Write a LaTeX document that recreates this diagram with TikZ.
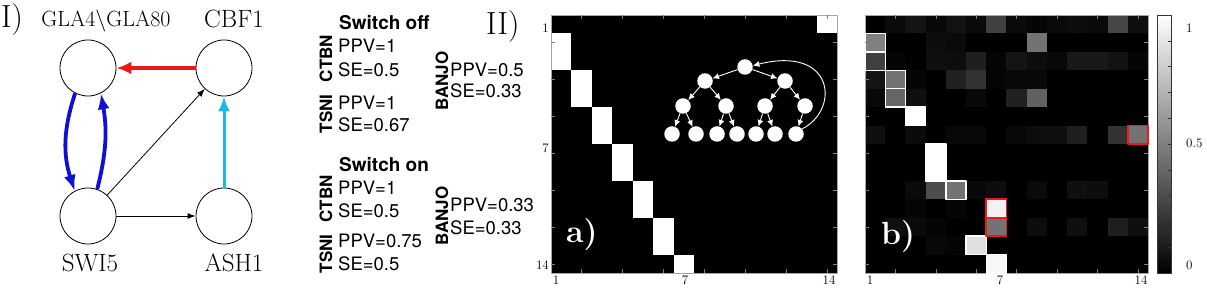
\documentclass[tikz,border=0pt]{standalone}
\usepackage{fontspec}
\newfontfamily\helv{TeX Gyre Heros}
\usetikzlibrary{arrows.meta}
\definecolor{swred}{RGB}{235,25,25}
\definecolor{swblue}{RGB}{15,15,215}
\definecolor{swcyan}{RGB}{25,185,230}
\begin{document}
\begin{tikzpicture}[x=1pt,y=1pt,line join=round,>=Stealth]
	\tikzset{gene/.style={circle,draw,line width=0.8pt,minimum size=56pt,inner sep=0pt},
		glab/.style={font=\fontsize{25}{26}\selectfont,anchor=base,inner sep=0pt},
		hv/.style={font=\helv\fontsize{18.5}{20}\selectfont,anchor=base west,inner sep=0pt},
		hvb/.style={font=\helv\bfseries\fontsize{17}{18}\selectfont,rotate=90,anchor=base,inner sep=0pt},
		numlab/.style={font=\fontsize{13}{14}\selectfont,inner sep=0pt},
		panlab/.style={white,font=\bfseries\fontsize{32}{34}\selectfont,anchor=base west,inner sep=0pt},
		tnode/.style={circle,fill=white,minimum size=15.5pt,inner sep=0pt},
		tedge/.style={white,line width=0.9pt,-{Latex[length=6.5pt,width=6pt]}},
		thin arrow/.style={line width=0.8pt,-{Latex[length=8pt,width=6pt]}},
		frame/.style={gray!70,line width=0.6pt}}
	\def\ax{551} \def\bx{865} \def\wa{20.43} \def\wb{20.21}
	\def\rh{18.43} \def\yt{273} \def\yb{15}
	\useasboundingbox (0,0) rectangle (1207,288);
	%\draw[gray!30] (0,0) grid[step=50] (1207,288);
	% I) network
	\node[font=\fontsize{32}{34}\selectfont,anchor=base west,inner sep=0pt] (lI) at (1,260) {I)};
	\node[gene] (gla) at (88,220) {};
	\node[gene] (cbf) at (224,220) {};
	\node[gene] (swi) at (88,72) {};
	\node[gene] (ash) at (224,72) {};
	\node[glab,font=\fontsize{22}{23}\selectfont] (lgla) at (106,261) {GLA4\textbackslash GLA80};
	\node[glab] (lcbf) at (234,260) {CBF1};
	\node[glab] (lswi) at (90,16) {SWI5};
	\node[glab] (lash) at (234,16) {ASH1};
	\draw[swred,line width=3.2pt,-{Latex[length=15pt,width=13pt]}] (cbf) -- (gla);
	\draw[swblue,line width=3.8pt,-{Latex[length=16pt,width=12pt]}] (gla.243) to[bend right=18] (swi.118);
	\draw[swblue,line width=3.8pt,-{Latex[length=16pt,width=12pt]}] (swi.71) to[bend right=12] (gla.297);
	\draw[swcyan,line width=3pt,-{Latex[length=15pt,width=12pt]}] (ash) -- (cbf);
	\draw[thin arrow] (swi) -- (cbf);
	\draw[thin arrow] (swi) -- (ash);
	% scores
	\node[hv,font=\helv\bfseries\fontsize{19}{20}\selectfont] (soff) at (339,258) {Switch off};
	\node[hv,font=\helv\bfseries\fontsize{19}{20}\selectfont] (son) at (339,116) {Switch on};
	\foreach \n/\x/\y/\t in {a/338/235/PPV=1, b/338/211/SE=0.5, c/338/178/PPV=1, d/338/156/SE=0.67,
		e/450/211/PPV=0.5, f/450/190/SE=0.33, g/338/93/PPV=1, h/338/70/SE=0.5,
		i/338/40/PPV=0.75, j/338/17/SE=0.5, k/450/76/PPV=0.33, l/450/53/SE=0.33}
		\node[hv] (s\n) at (\x,\y) {\t};
	\foreach \n/\x/\y/\t in {a/332/229.5/CTBN, b/332/174/TSNI, c/448/207/BANJO,
		d/332/89/CTBN, e/332/34/TSNI, f/448/72/BANJO}
		\node[hvb] (m\n) at (\x,\y) {\t};
	% II a) true network
	\node[font=\fontsize{32}{34}\selectfont,anchor=base west,inner sep=0pt] (lII) at (486,253) {II)};
	\fill[black] (\ax,\yb) rectangle (837,\yt);
	\foreach \r/\c/\n in {1/14/1, 2/1/2, 4/2/2, 6/3/2, 8/4/2, 10/5/2, 12/6/2, 14/7/1}
		\fill[white] ({\ax+(\c-1)*\wa},{\yt-(\r-1)*\rh}) rectangle ({\ax+\c*\wa},{\yt-(\r-1+\n)*\rh});
	\draw[frame] (\ax,\yb) rectangle (837,\yt);
	\foreach \n/\x/\y in {1/745/221, 2/705/207, 3/785/207, 4/683/182, 5/726/182, 6/765/182, 7/805/182,
		8/672/154, 9/696/154, 10/717/154, 11/737/154, 12/756/154, 13/775/154, 14/796/154}
		\node[tnode] (t\n) at (\x,\y) {};
	\foreach \p/\c in {1/2,1/3,2/4,2/5,3/6,3/7,4/8,4/9,5/10,5/11,6/12,6/13,7/14}
		\draw[tedge] (t\p) -- (t\c);
	\draw[tedge] (t14.40) .. controls (840,178) and (835,243) .. (t1.10);
	\node[panlab] (la) at (566,45) {a)};
	% II b) inferred network
	\fill[black] (\bx,\yb) rectangle (1148,\yt);
	\foreach \r/\c/\v in {1/2/4,1/3/8,1/4/3,1/5/7,1/6/4,1/7/25,1/8/4,1/9/2,1/10/4,1/11/5,1/12/4,1/13/28,1/14/6,
		2/1/50,2/4/5,2/5/4,2/9/45,
		3/1/25,3/2/2,3/4/6,3/5/5,3/6/12,3/7/2,3/8/8,3/9/5,3/10/3,3/11/10,3/12/10,3/13/7,3/14/2,
		4/1/8,4/2/45,4/3/2,4/5/13,4/6/20,4/7/2,4/8/3,4/9/3,
		5/1/3,5/2/40,5/3/6,5/6/3,5/8/13,5/9/38,
		6/3/100,
		7/1/6,7/3/4,7/5/3,7/6/3,7/8/3,7/9/5,7/10/6,7/11/12,7/13/20,7/14/45,
		8/4/100,9/4/100,
		10/3/4,10/4/30,10/5/45,10/6/3,10/7/5,10/9/4,10/11/6,10/12/5,
		11/3/2,11/5/2,11/7/95,
		12/2/6,12/3/4,12/4/2,12/7/45,12/9/5,12/11/6,12/13/12,12/14/6,
		13/4/3,13/5/2,13/6/88,
		14/7/97}
		\fill[white!\v!black] ({\bx+(\c-1)*\wb},{\yt-(\r-1)*\rh}) rectangle ({\bx+\c*\wb},{\yt-\r*\rh});
	\draw[frame] (\bx,\yb) rectangle (1148,\yt);
	\foreach \r/\c/\n in {2/1/1, 3/1/1, 4/2/1, 5/2/1, 6/3/1, 8/4/2, 10/5/1, 13/6/1, 14/7/1}
		\draw[white,line width=1.4pt] ({\bx+(\c-1)*\wb},{\yt-(\r-1)*\rh}) rectangle ({\bx+\c*\wb},{\yt-(\r-1+\n)*\rh});
	\foreach \r/\c in {7/14, 11/7, 12/7}
		\draw[swred,line width=1.8pt] ({\bx+(\c-1)*\wb},{\yt-(\r-1)*\rh}) rectangle ({\bx+\c*\wb},{\yt-\r*\rh});
	\node[panlab] (lb) at (881,43) {b)};
	% ticks
	\foreach \k in {2,4,...,14}{
		\draw[gray,line width=0.4pt] (\ax,{\yt-(\k-0.5)*\rh}) -- ++(4,0) (837,{\yt-(\k-0.5)*\rh}) -- ++(-4,0)
			({\ax+(\k-0.5)*\wa},\yb) -- ++(0,4) ({\ax+(\k-0.5)*\wa},\yt) -- ++(0,-4);
		\draw[gray,line width=0.4pt] (\bx,{\yt-(\k-0.5)*\rh}) -- ++(4,0) (1148,{\yt-(\k-0.5)*\rh}) -- ++(-4,0)
			({\bx+(\k-0.5)*\wb},\yb) -- ++(0,4) ({\bx+(\k-0.5)*\wb},\yt) -- ++(0,-4);}
	\foreach \n/\y/\t in {a/260/1, b/140/7, c/23/14}
		\node[numlab,anchor=east] (y\n) at (549,\y) {\t};
	\foreach \n/\x/\t in {a/556/1, b/685/7, c/829/14, d/870/1, e/1000/7, f/1141/14}
		\node[numlab] (x\n) at (\x,8) {\t};
	% colour bar
	\shade[bottom color=black,top color=white] (1157,\yb) rectangle (1171,\yt);
	\draw[black!80,line width=0.6pt] (1157,\yb) rectangle (1171,\yt);
	\foreach \k in {1,...,9}
		\draw[black!80,line width=0.5pt] (1171,{\yb+\k*25.8}) -- ++(-3,0);
	\foreach \n/\y/\t in {a/260/1, b/145/0.5, c/23/0}
		\node[numlab,anchor=west] (c\n) at (1186,\y) {\t};
\end{tikzpicture}
\end{document}
